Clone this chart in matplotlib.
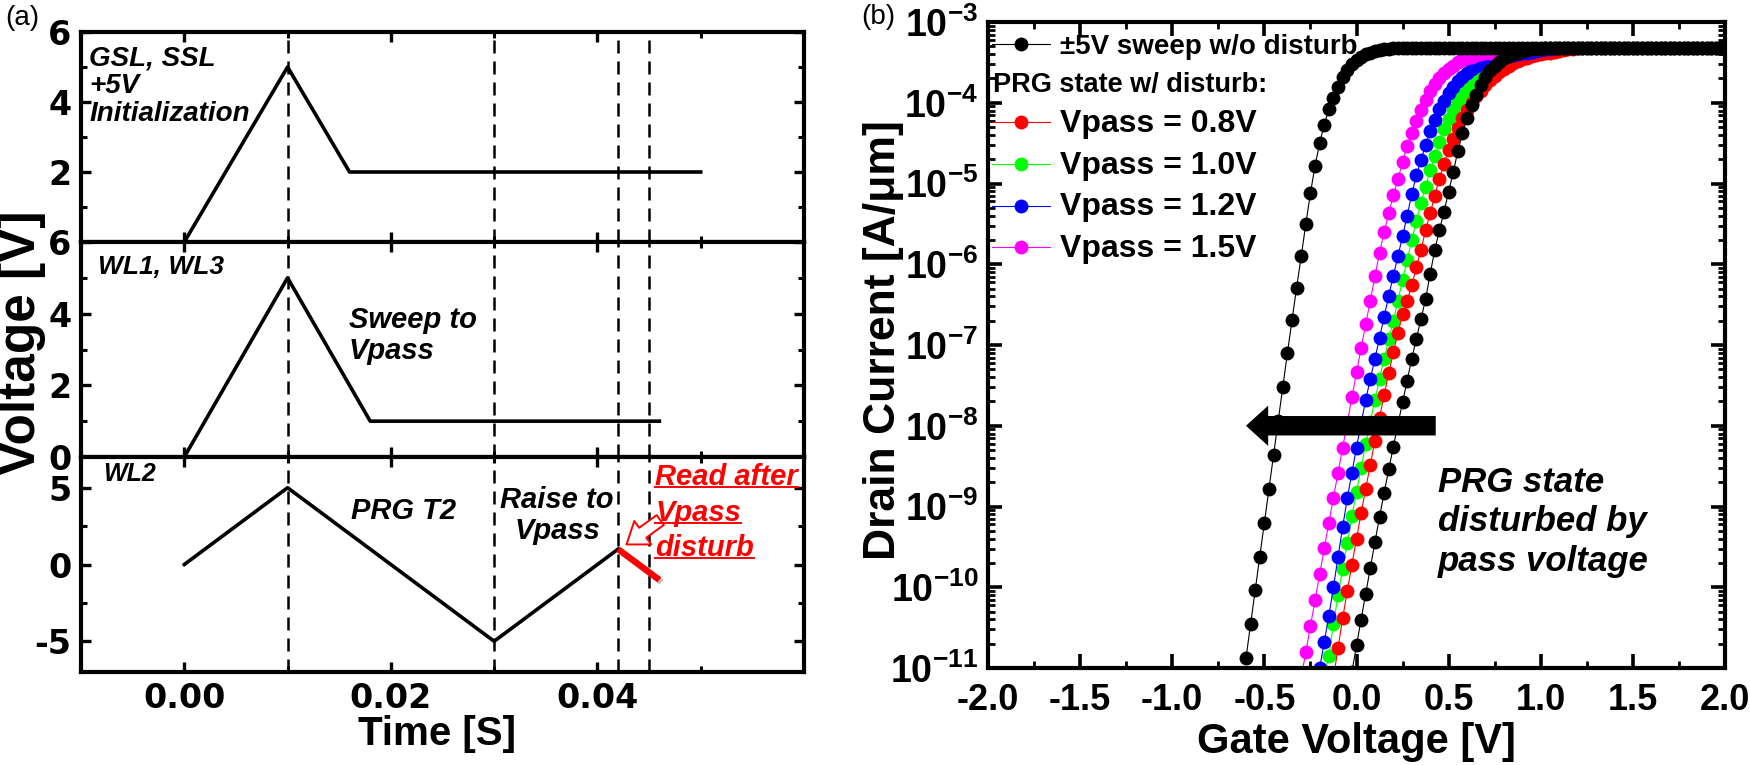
import numpy as np
import matplotlib
matplotlib.use("Agg")
import matplotlib.pyplot as plt
from matplotlib.lines import Line2D
import matplotlib.patheffects as pe
from matplotlib.ticker import MultipleLocator, FixedLocator, NullFormatter, LogLocator

plt.rcParams['font.family'] = ['Liberation Sans', 'DejaVu Sans']
plt.rcParams['font.weight'] = 'bold'
plt.rcParams['axes.unicode_minus'] = False
plt.rcParams['mathtext.fontset'] = 'custom'
plt.rcParams['mathtext.rm'] = 'Liberation Sans:bold'
plt.rcParams['mathtext.bf'] = 'Liberation Sans:bold'
plt.rcParams['mathtext.it'] = 'Liberation Sans:bold:italic'

# ---------------- (a) waveform data ----------------
GSL_t = [0.0, 0.01, 0.016, 0.05]
GSL_v = [0.0, 5.0, 2.0, 2.0]
WL13_t = [0.0, 0.01, 0.018, 0.046]
WL13_v = [0.0, 5.0, 1.0, 1.0]
WL2_t = [0.0, 0.01, 0.03, 0.042]
WL2_v = [0.0, 5.0, -5.0, 1.0]
READ_t = [0.042, 0.046]
READ_v = [1.0, -1.0]
EVENT_t = [0.01, 0.03, 0.042, 0.045]
TIME_TICKS = [0.00, 0.02, 0.04]

# ---------------- (b) Id-Vg data ----------------
VG = [-0.600, -0.575, -0.550, -0.525, -0.500, -0.475, -0.450, -0.425, -0.400, -0.375,
      -0.350, -0.325, -0.300, -0.275, -0.250, -0.225, -0.200, -0.175, -0.150, -0.125,
      -0.100, -0.075, -0.050, -0.025, 0.000, 0.025, 0.050, 0.075, 0.100, 0.125,
      0.150, 0.175, 0.200, 0.225, 0.250, 0.275, 0.300, 0.325, 0.350, 0.375,
      0.400, 0.425, 0.450, 0.475, 0.500, 0.525, 0.550, 0.575, 0.600, 0.625,
      0.650, 0.675, 0.700, 0.725, 0.750, 0.775, 0.800, 0.825, 0.850, 0.875,
      0.900, 0.925, 0.950, 0.975, 1.000, 1.025, 1.050, 1.075, 1.100, 1.125,
      1.150, 1.175, 1.200, 1.225, 1.250, 1.275, 1.300, 1.325, 1.350, 1.375,
      1.400, 1.425, 1.450, 1.475, 1.500, 1.525, 1.550, 1.575, 1.600, 1.625,
      1.650, 1.675, 1.700, 1.725, 1.750, 1.775, 1.800, 1.825, 1.850, 1.875,
      1.900, 1.925, 1.950, 1.975, 2.000]

# log10(Id) values, each list starts at the given gate voltage
BLK_FWD_START = -0.600
BLK_FWD_LOG = [-10.88, -10.46, -10.04, -9.62, -9.20, -8.78, -8.36, -7.94, -7.52, -7.10,
               -6.69, -6.29, -5.90, -5.50, -5.12, -4.78, -4.50, -4.27, -4.08, -3.94,
               -3.80, -3.68, -3.59, -3.52, -3.47, -3.43, -3.40, -3.38, -3.36, -3.35,
               -3.34, -3.33, -3.32, -3.32, -3.32, -3.32, -3.32, -3.32, -3.32, -3.32,
               -3.32, -3.32, -3.32, -3.32, -3.32, -3.32, -3.32, -3.32, -3.32, -3.32,
               -3.32, -3.32, -3.32, -3.32, -3.32, -3.32, -3.32, -3.32, -3.32, -3.32,
               -3.32, -3.32, -3.32, -3.32, -3.32, -3.32, -3.32, -3.32, -3.32, -3.32,
               -3.32, -3.32, -3.32, -3.32, -3.32, -3.32, -3.32, -3.32, -3.32, -3.32,
               -3.32, -3.32, -3.32, -3.32, -3.32, -3.32, -3.32, -3.32, -3.32, -3.32,
               -3.32, -3.32, -3.32, -3.32, -3.32, -3.32, -3.32, -3.32, -3.32, -3.32,
               -3.32, -3.32, -3.32, -3.32, -3.32]
BLK_REV_START = -0.025
BLK_REV_LOG = [-11.05, -10.72, -10.40, -10.08, -9.76, -9.44, -9.13, -8.83, -8.54, -8.26,
               -7.98, -7.71, -7.44, -7.17, -6.92, -6.68, -6.43, -6.12, -5.82, -5.58,
               -5.35, -5.10, -4.86, -4.60, -4.38, -4.19, -4.03, -3.90, -3.78, -3.68,
               -3.60, -3.54, -3.49, -3.45, -3.42, -3.40, -3.38, -3.36, -3.35, -3.34,
               -3.33, -3.33, -3.32, -3.32, -3.32, -3.32, -3.32, -3.32, -3.32, -3.32,
               -3.32, -3.32, -3.32, -3.32, -3.32, -3.32, -3.32, -3.32, -3.32, -3.32,
               -3.32, -3.32, -3.32, -3.32, -3.32, -3.32, -3.32, -3.32, -3.32, -3.32,
               -3.32, -3.32, -3.32, -3.32, -3.32, -3.32, -3.32, -3.32, -3.32, -3.32,
               -3.32, -3.32]
V08_START = -0.125
V08_LOG = [-11.12, -10.75, -10.38, -10.05, -9.72, -9.40, -9.08, -8.78, -8.48, -8.19,
           -7.90, -7.62, -7.35, -7.09, -6.85, -6.62, -6.45, -6.26, -6.04, -5.82,
           -5.58, -5.37, -5.15, -4.94, -4.76, -4.59, -4.45, -4.31, -4.19, -4.09,
           -4.00, -3.92, -3.85, -3.78, -3.72, -3.67, -3.62, -3.58, -3.55, -3.51,
           -3.48, -3.46, -3.44, -3.42, -3.41, -3.40, -3.39, -3.38, -3.37, -3.36,
           -3.35, -3.34, -3.33]
V10_START = -0.175
V10_LOG = [-11.12, -10.85, -10.45, -10.10, -9.77, -9.45, -9.12, -8.82, -8.52, -8.23,
           -7.95, -7.68, -7.42, -7.17, -6.93, -6.70, -6.45, -6.20, -5.95, -5.70,
           -5.47, -5.24, -5.04, -4.83, -4.66, -4.48, -4.33, -4.20, -4.09, -3.99,
           -3.91, -3.83, -3.76, -3.70, -3.64, -3.60, -3.57, -3.54, -3.51, -3.48,
           -3.46, -3.44, -3.43, -3.42, -3.41, -3.40, -3.39, -3.38, -3.37, -3.36,
           -3.35, -3.34, -3.33]
V12_START = -0.200
V12_LOG = [-11.00, -10.68, -10.35, -10.00, -9.62, -9.25, -8.90, -8.58, -8.27, -7.97,
           -7.68, -7.42, -7.17, -6.91, -6.65, -6.39, -6.14, -5.90, -5.65, -5.40,
           -5.13, -4.90, -4.71, -4.52, -4.35, -4.21, -4.08, -3.98, -3.88, -3.80,
           -3.73, -3.68, -3.63, -3.58, -3.55, -3.52, -3.50, -3.48, -3.46, -3.44,
           -3.43, -3.42, -3.41, -3.40, -3.39, -3.38, -3.37, -3.36, -3.35, -3.34,
           -3.33]
V15_START = -0.300
V15_LOG = [-11.12, -10.80, -10.48, -10.16, -9.84, -9.52, -9.20, -8.89, -8.58, -8.27,
           -7.96, -7.65, -7.34, -7.04, -6.74, -6.45, -6.15, -5.86, -5.60, -5.37,
           -5.14, -4.95, -4.73, -4.53, -4.38, -4.22, -4.09, -3.97, -3.86, -3.77,
           -3.69, -3.63, -3.58, -3.54, -3.50, -3.47, -3.45, -3.43, -3.41, -3.40,
           -3.39, -3.38, -3.37, -3.36, -3.35, -3.35, -3.34, -3.34, -3.33, -3.33,
           -3.33, -3.33, -3.33]

LEGEND_LABELS = ['\u00b15V sweep w/o disturb', ' ', 'Vpass = 0.8V', 'Vpass = 1.0V',
                 'Vpass = 1.2V', 'Vpass = 1.5V']
XTICKS_B = [-2.0, -1.5, -1.0, -0.5, 0.0, 0.5, 1.0, 1.5, 2.0]
YEXP_B = [-11, -10, -9, -8, -7, -6, -5, -4, -3]

W, H = 1750, 765
fig = plt.figure(figsize=(W / 100, H / 100), dpi=100)


def fx(px):
    return px / W


def fy(py):
    return 1 - py / H


# ---------------- panel (a) ----------------
L, R = 81, 804
bounds = [(32, 242), (242, 457), (457, 672)]
axs = []
for (t, b) in bounds:
    ax = fig.add_axes([fx(L), fy(b), fx(R) - fx(L), fy(t) - fy(b)])
    axs.append(ax)

dash = (0, (5.2, 3.2))
for ax in axs:
    ax.set_xlim(-0.01, 0.06)
    for s in ax.spines.values():
        s.set_linewidth(3)
    for t in EVENT_t:
        ax.axvline(t, color='k', lw=1.8, linestyle=dash, zorder=1)
    ax.xaxis.set_major_locator(FixedLocator(TIME_TICKS))
    ax.xaxis.set_minor_locator(MultipleLocator(0.01))
    ax.tick_params(which='both', direction='in', top=True, right=True, labelsize=24,
                   labelfontfamily='DejaVu Sans')
    ax.tick_params(which='major', length=7, width=2.4, pad=7)
    ax.tick_params(which='minor', length=4, width=2.2)

a0, a1, a2 = axs
a0.plot(GSL_t, GSL_v, color='k', lw=2.6, zorder=3)
a0.set_ylim(0, 6)
a0.set_yticks([0, 2, 4, 6])
a0.set_yticklabels(['', '2', '4', '6'])
a0.yaxis.set_minor_locator(MultipleLocator(1))
a0.set_xticklabels([])

a1.plot(WL13_t, WL13_v, color='k', lw=2.6, zorder=3)
a1.set_ylim(0, 6)
a1.set_yticks([0, 2, 4, 6])
a1.yaxis.set_minor_locator(MultipleLocator(1))
a1.set_xticklabels([])

a2.plot(WL2_t, WL2_v, color='k', lw=2.6, zorder=3)
a2.plot(READ_t, READ_v, color='red', lw=4.5, solid_capstyle='butt', zorder=4,
        path_effects=[pe.SimpleLineShadow(offset=(1.5, -1.5), shadow_color='gray', alpha=0.5),
                      pe.Normal()])
a2.set_ylim(-7, 7)
a2.set_yticks([-5, 0, 5])
a2.yaxis.set_minor_locator(MultipleLocator(2.5))
a2.set_xticks(TIME_TICKS)
a2.set_xticklabels(['0.00', '0.02', '0.04'])
a2.tick_params(axis='x', which='major', pad=7)

ital = dict(fontweight='bold', fontstyle='italic', color='k')
a0.text(-0.0092, 5.62, 'GSL, SSL\n+5V\nInitialization', fontsize=20, va='top', ha='left',
        linespacing=1.1, **ital)
a1.text(-0.0084, 5.30, 'WL1, WL3', fontsize=19, va='center', ha='left', **ital)
a1.text(0.0159, 3.4, 'Sweep to\nVpass', fontsize=21, va='center', ha='left',
        linespacing=1.15, **ital)
a2.text(-0.0079, 5.9, 'WL2', fontsize=18, va='center', ha='left', **ital)
a2.text(0.0161, 3.5, 'PRG T2', fontsize=21, va='center', ha='left', **ital)
a2.text(0.0361, 3.2, 'Raise to\nVpass', fontsize=21, va='center', ha='center',
        linespacing=1.15, **ital)
red_lines = []
for txt, yy in zip(['Read after', 'Vpass', 'disturb'], [5.7, 3.35, 1.05]):
    red_lines.append(a2.text(0.0456, yy, txt, fontsize=21, va='center', ha='left',
                             fontweight='bold', fontstyle='italic', color='red',
                             clip_on=False))
a2.annotate('', xy=(0.0426, 1.2), xytext=(0.0463, 3.0),
            arrowprops=dict(arrowstyle='simple,head_length=0.9,head_width=1.3,tail_width=0.55',
                            fc='white', ec='red', lw=1.4, mutation_scale=16),
            annotation_clip=False, zorder=5)

fig.text(fx(22), fy(343), 'Voltage [V]', rotation=90, fontsize=37, fontweight='bold',
         ha='center', va='center')
fig.text(fx(437), fy(734), 'Time [S]', fontsize=29, fontweight='bold', ha='center', va='center')
fig.text(fx(22), fy(18), '(a)', fontsize=20, fontweight='normal', ha='center', va='center')

# ---------------- panel (b) ----------------
bx = fig.add_axes([fx(988), fy(668), fx(1725) - fx(988), fy(22) - fy(668)])
bx.set_yscale('log')
bx.set_xlim(-2.0, 2.0)
bx.set_ylim(1e-11, 1e-3)


def series(start, logs):
    i0 = VG.index(start)
    x = VG[i0:i0 + len(logs)]
    y = [10.0 ** v for v in logs]
    return x, y


mk = dict(marker='o', markersize=10, lw=0.8, markeredgewidth=0)
xg, yg = series(V10_START, V10_LOG)
h10, = bx.plot(xg, yg, color='#00ff00', **mk)
xr, yr = series(V08_START, V08_LOG)
h08, = bx.plot(xr, yr, color='#ff0000', **mk)
xb, yb = series(V12_START, V12_LOG)
h12, = bx.plot(xb, yb, color='#0000ff', **mk)
xm, ym = series(V15_START, V15_LOG)
h15, = bx.plot(xm, ym, color='#ff00ff', **mk)
xk1, yk1 = series(BLK_FWD_START, BLK_FWD_LOG)
hk, = bx.plot(xk1, yk1, color='k', **mk)
xk2, yk2 = series(BLK_REV_START, BLK_REV_LOG)
bx.plot(xk2, yk2, color='k', **mk)

for s in bx.spines.values():
    s.set_linewidth(3)
bx.set_xticks(XTICKS_B)
bx.set_xticklabels(['%.1f' % v for v in XTICKS_B])
bx.xaxis.set_minor_locator(MultipleLocator(0.25))
bx.set_yticks([10.0 ** e for e in YEXP_B])
bx.set_yticklabels([r'$10^{%d}$' % e for e in YEXP_B])
bx.yaxis.set_minor_locator(LogLocator(base=10, subs=np.arange(2, 10), numticks=20))
bx.yaxis.set_minor_formatter(NullFormatter())
bx.tick_params(which='both', direction='in', top=True, right=True)
bx.tick_params(which='major', length=10, width=2.6)
bx.tick_params(which='minor', length=5, width=2.0)
bx.tick_params(axis='x', labelsize=26, pad=11)
bx.tick_params(axis='y', labelsize=27, pad=7)

blank = Line2D([], [], linestyle='none')
leg = bx.legend([hk, blank, h08, h10, h12, h15], LEGEND_LABELS, loc='upper left',
                bbox_to_anchor=(0.005, 0.982), frameon=False, fontsize=20, borderpad=0,
                borderaxespad=0, handlelength=2.1, handletextpad=0.35, labelspacing=0.42)
texts = leg.get_texts()
texts[0].set_fontsize(20)
for t in texts[2:]:
    t.set_fontsize(23)
bx.text(0.007, 0.9025, 'PRG state w/ disturb:', transform=bx.transAxes, fontsize=19.5,
        fontweight='bold', va='center', ha='left')

ARROW_FROM = (0.43, 1e-8)
ARROW_TO = (-0.60, 1e-8)
bx.annotate('', xy=ARROW_TO, xytext=ARROW_FROM,
            arrowprops=dict(arrowstyle='simple,head_length=1.6,head_width=2.9,tail_width=1.4',
                            fc='k', ec='k', lw=0, mutation_scale=10, shrinkA=0, shrinkB=0),
            zorder=6)
bx.text(0.44, 6.5e-10, 'PRG state\ndisturbed by\npass voltage', fontsize=25, ha='left',
        va='center', linespacing=1.25, **ital)

fig.text(fx(884), fy(340), 'Drain Current [A/\u03bcm]', rotation=90, fontsize=32,
         fontweight='bold', ha='center', va='center')
fig.text(fx(1356), fy(742), 'Gate Voltage [V]', fontsize=30, fontweight='bold',
         ha='center', va='center')
fig.text(fx(878), fy(17), '(b)', fontsize=20, fontweight='normal', ha='center', va='center')

# underline the red annotation lines
fig.canvas.draw()
rend = fig.canvas.get_renderer()
inv = fig.transFigure.inverted()
for t in red_lines:
    bb = t.get_window_extent(renderer=rend)
    (x0, y0), (x1, _) = inv.transform([(bb.x0, bb.y0 + 4), (bb.x1, bb.y0 + 4)])
    fig.add_artist(Line2D([x0, x1], [y0, y0], transform=fig.transFigure, color='red', lw=1.4))

fig.savefig('out.png', dpi=100)
